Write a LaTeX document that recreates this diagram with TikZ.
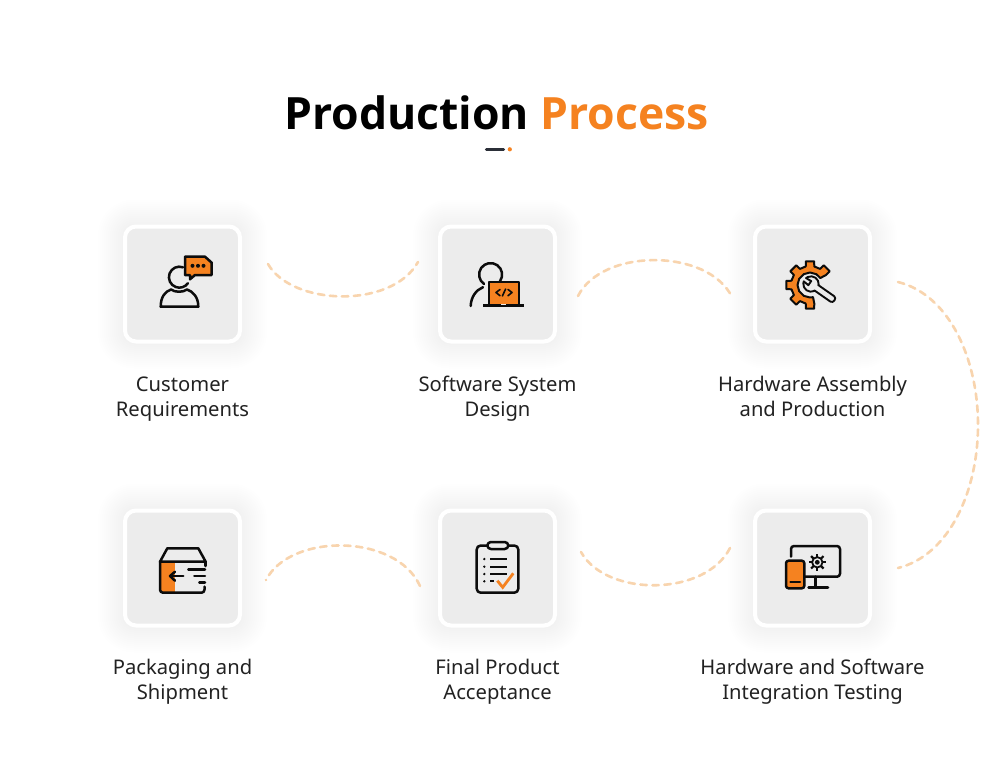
\documentclass[tikz,border=0pt]{standalone}
\usepackage{fontspec}
\setmainfont{Noto Sans}
\newfontfamily\titlefont{Open Sans}
\usetikzlibrary{calc}
\definecolor{org}{HTML}{F58220}
\definecolor{cardgray}{HTML}{ECECEC}
\definecolor{dashc}{HTML}{F8D4AE}
\definecolor{inkc}{HTML}{0C0C0C}
\definecolor{labelc}{HTML}{222222}
\definecolor{barc}{HTML}{2B2F38}
\newcommand{\lstrut}{\rule[-6pt]{0pt}{25pt}}
\tikzset{
  card/.style={draw=white,line width=4pt,fill=cardgray,rounded corners=11pt,minimum size=115pt,inner sep=0pt},
  lbl/.style={font=\fontsize{20.2}{25}\selectfont,text=labelc,align=center,inner sep=0pt},
  flow/.style={draw=dashc,line width=2.6pt,dash pattern=on 6.5pt off 5.5pt,line cap=round},
  ink/.style={draw=inkc,line width=2.5pt,line join=round,line cap=round},
  inkfill/.style={ink,fill=org},
  thin/.style={draw=inkc,line width=2pt,line cap=round,line join=round}
}
\newcommand{\softshadow}[2]{%
  \foreach \s in {1,3,...,25}{
    \pgfmathsetmacro{\rc}{11+\s}
    \fill[black,opacity=0.0036,rounded corners=\rc pt] ($(#1,#2)+(-59.5-\s,-59.5-\s)$) rectangle ($(#1,#2)+(59.5+\s,59.5+\s)$);
  }}
\begin{document}
\begin{tikzpicture}[x=1pt,y=-1pt]
\fill[white] (0,0) rectangle (1000,760);
\useasboundingbox (0,0) rectangle (1000,760);

% title
\node[anchor=base,font=\fontsize{44.5}{50}\selectfont\titlefont\bfseries,inner sep=0pt] (title) at (496.5,129) {\textcolor{black}{Production} \textcolor{org}{Process}};
\draw[barc,line width=3.4pt,line cap=round] (486.5,149.3) -- (503.5,149.3);
\fill[org] (509.8,149.3) circle (2.1);

% shadows and cards
\softshadow{182.5}{284}\softshadow{497.5}{284}\softshadow{812.5}{284}
\softshadow{182.5}{568}\softshadow{497.5}{568}\softshadow{812.5}{568}
\node[card] (c1) at (182.5,284) {};
\node[card] (c2) at (497.5,284) {};
\node[card] (c3) at (812.5,284) {};
\node[card] (c4) at (812.5,568) {};
\node[card] (c5) at (497.5,568) {};
\node[card] (c6) at (182.5,568) {};

% labels
\node[lbl] (l1) at (182.5,397) {\lstrut Customer\\\lstrut Requirements};
\node[lbl] (l2) at (497.5,397) {\lstrut Software System\\\lstrut Design};
\node[lbl] (l3) at (812.5,397) {\lstrut Hardware Assembly\\\lstrut and Production};
\node[lbl] (l4) at (812.5,680) {\lstrut Hardware and Software\\\lstrut Integration Testing};
\node[lbl] (l5) at (497.5,680) {\lstrut Final Product\\\lstrut Acceptance};
\node[lbl] (l6) at (182.5,680) {\lstrut Packaging and\\\lstrut Shipment};

% connectors
\coordinate (f1a) at (268,264); \coordinate (f1b) at (418,262);
\coordinate (f2a) at (578,296); \coordinate (f2b) at (732,297);
\coordinate (f3a) at (898,282); \coordinate (f3m) at (978,425); \coordinate (f3b) at (898,568);
\coordinate (f4a) at (730,548); \coordinate (f4b) at (581,552);
\coordinate (f5a) at (420,586); \coordinate (f5b) at (266,580);
\draw[flow] (f1a) .. controls (292,306) and (392,309) .. (f1b);
\draw[flow] (f2a) .. controls (602,248) and (708,248) .. (f2b);
\draw[flow] (f3a) .. controls (950,295) and (978,360) .. (f3m) .. controls (978,490) and (950,555) .. (f3b);
\draw[flow] (f4a) .. controls (705,597) and (606,597) .. (f4b);
\draw[flow] (f5a) .. controls (396,533) and (290,533) .. (f5b);

% icon 1: customer
\draw[ink] (183,267.3) arc[start angle=-70,end angle=-325,radius=10.5];
\draw[ink] (160.7,306.7) -- (198.3,306.7) .. controls (198.3,297) and (193,291.5) .. (187,289.5) .. controls (183,292.5) and (175,292.5) .. (171,289.5) .. controls (165,291.5) and (160.7,297) .. (160.7,306.7) -- cycle;
\draw[inkfill] (185,256.7) -- (205,256.7) -- (211.7,262.7) -- (211.7,275) -- (195,275) -- (190,279.3) -- (190,275) -- (185,275) -- cycle;
\foreach \x in {192.5,198,203.5} \fill[inkc] (\x,265.8) circle (2);

% icon 2: software
\draw[ink] (484,284) arc[start angle=125,end angle=395,radius=11.5];
\draw[ink] (470.7,306) .. controls (471,297) and (476,290) .. (483,287.2);
\draw[inkfill,line width=2pt] (488.8,281.7) rectangle (519.3,304.5);
\fill[inkc] (483.3,304.3) rectangle (524,307);
\fill[cardgray] (501,304.3) rectangle (506,305.4);
\draw[thin,line width=1.6pt] (500,289.5) -- (496,292.5) -- (500,295.7);
\draw[thin,line width=1.6pt] (508,289.5) -- (512,292.5) -- (508,295.7);
\draw[thin,line width=1.6pt] (505.6,289) -- (502.4,296);

% icon 3: gear and wrench
\begin{scope}[shift={(810,285)}]
\draw[inkfill,line width=2pt] (-32:19)
  \foreach \a in {-45,-90,-135,-180,-225,-270}{
    -- (\a+13:19) -- (\a+10:24) -- (\a-10:24) -- (\a-13:19)
  }
  -- (76:12.5) -- (90:12.5) -- (120:12.5) -- (150:12.5) -- (180:12.5) -- (210:12.5) -- (240:12.5) -- (270:12.5) -- (300:12.5) -- (326:12.5) -- cycle;
\end{scope}
\begin{scope}[shift={(811,284)},rotate=-35]
\draw[thin,fill=cardgray,line width=1.9pt] (6.5,-3.3) -- (26,-3.3) .. controls (29.5,-3.3) and (29.5,3.3) .. (26,3.3) -- (6.5,3.3)
  -- (30:7.7) -- (60:7.7) -- (90:7.7) -- (120:7.7) -- (150:7.7) -- (165:7.7)
  -- (-1.5,2.5) -- (-1.5,-2.5) -- (-165:7.7)
  -- (-150:7.7) -- (-120:7.7) -- (-90:7.7) -- (-60:7.7) -- (-30:7.7) -- cycle;
\end{scope}

% icon 4: testing
\draw[ink,rounded corners=3pt] (791,556.7) -- (791,546) -- (840,546) -- (840,576.7) -- (805,576.7);
\draw[ink] (815.7,576.7) -- (815.7,587.7);
\draw[ink] (808.5,587.7) -- (828,587.7);
\draw[inkfill,rounded corners=2.5pt] (786,560.7) rectangle (804.3,588.3);
\draw[ink] (790.5,582.2) -- (800,582.2);
\begin{scope}[shift={(817.3,562.3)}]
\foreach \a in {0,45,...,315} \draw[thin,line width=2.2pt,line cap=butt] (\a:5) -- (\a:8.8);
\draw[thin,line width=1.8pt] (0,0) circle (5.2);
\fill[inkc] (0,0) circle (2.4);
\end{scope}

% icon 5: acceptance
\draw[ink,rounded corners=4pt] (476.7,545.5) rectangle (518.3,592.7);
\draw[ink,fill=cardgray,rounded corners=3.6pt] (487.3,542) rectangle (508.3,549);
\foreach \y in {559,566.7,574,581.3} \fill[inkc] (484.3,\y) circle (1.3);
\foreach \y in {559,566.7,574} \draw[thin,line width=2pt,line cap=butt] (490,\y) -- (507.3,\y);
\draw[thin,line width=2pt,line cap=butt] (490,581.3) -- (494.3,581.3);
\draw[org,line width=2.8pt,line join=miter] (497.3,580.7) -- (502.7,587.3) -- (513.3,573.3);

% icon 6: packaging
\fill[org] (161,563) rectangle (175,591.5);
\draw[ink] (160,561.7) -- (167.3,548.3) -- (198.3,548.3) -- (205.7,561.7) -- cycle;
\draw[ink,rounded corners=2.5pt] (205.7,561.7) -- (205.7,566);
\draw[ink,rounded corners=3pt] (160,561.7) -- (160,592.7) -- (204.5,592.7) -- (204.5,586.5);
\draw[ink] (170,576) -- (183.3,576);
\draw[ink] (175,571.7) -- (170,576) -- (175,580.7);
\draw[ink] (188.3,569.3) -- (205,569.3);
\draw[ink] (194.3,576) -- (205,576);
\draw[ink] (199.3,582.3) -- (205,582.3);
\end{tikzpicture}
\end{document}
